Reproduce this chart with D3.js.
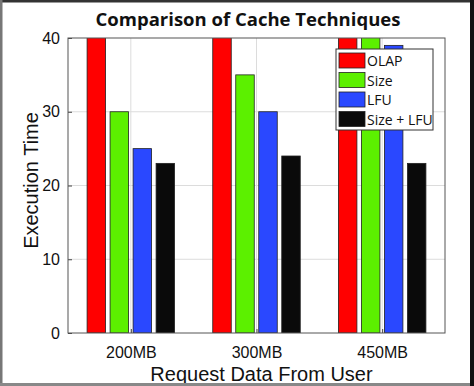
<!DOCTYPE html>
<html>
<head>
<meta charset="utf-8">
<script src="https://cdn.jsdelivr.net/npm/d3@7"></script>
<style>
  body { margin: 0; background: #fff; }
  svg { display: block; }
</style>
</head>
<body>
<div id="chart"></div>
<script>
// chart data
const categories = ['200MB', '300MB', '450MB'];
const seriesNames = ['OLAP', 'Size', 'LFU', 'Size + LFU'];
const olap = [45, 45, 45];
const size = [30, 35, 42];
const lfu = [25, 30, 39];
const sizeLfu = [23, 24, 23];
const yTicks = [0, 10, 20, 30, 40];

const seriesValues = [olap, size, lfu, sizeLfu];
const colors = ['#ff0000', '#5cf000', '#2a48ff', '#0a0a0a'];

const W = 474, H = 386;
const plot = { left: 68, right: 445, top: 38, bottom: 333 };

const svg = d3.select('#chart')
  .append('svg')
  .attr('width', W)
  .attr('height', H);

svg.append('rect')
  .attr('width', W).attr('height', H)
  .attr('fill', '#fff');

const x = d3.scaleLinear()
  .domain([0.5, categories.length + 0.5])
  .range([plot.left, plot.right]);

const y = d3.scaleLinear()
  .domain([0, 40])
  .range([plot.bottom, plot.top]);

svg.append('defs').append('clipPath')
  .attr('id', 'plotClip')
  .append('rect')
  .attr('x', plot.left).attr('y', plot.top)
  .attr('width', plot.right - plot.left).attr('height', plot.bottom - plot.top);

// grid
const grid = svg.append('g');
yTicks.slice(1, -1).forEach(t => {
  grid.append('line')
    .attr('x1', plot.left).attr('x2', plot.right)
    .attr('y1', y(t)).attr('y2', y(t))
    .attr('stroke', '#dcdcdc').attr('stroke-width', 1);
});
categories.forEach((c, i) => {
  grid.append('line')
    .attr('x1', x(i + 1)).attr('x2', x(i + 1))
    .attr('y1', plot.top).attr('y2', plot.bottom)
    .attr('stroke', '#dcdcdc').attr('stroke-width', 1);
});

// bars
const barW = 18.5, step = 23;
const bars = svg.append('g').attr('clip-path', 'url(#plotClip)');
categories.forEach((c, i) => {
  seriesValues.forEach((vals, s) => {
    const cx = x(i + 1) + (s - 1.5) * step;
    bars.append('rect')
      .attr('x', cx - barW / 2)
      .attr('y', y(vals[i]))
      .attr('width', barW)
      .attr('height', y(0) - y(vals[i]))
      .attr('fill', colors[s])
      .attr('stroke', '#222')
      .attr('stroke-width', 0.8);
  });
});

// axes
const yAxis = svg.append('g')
  .attr('transform', `translate(${plot.left},0)`)
  .call(d3.axisLeft(y).tickValues(yTicks).tickSize(-4).tickPadding(8));
const xAxis = svg.append('g')
  .attr('transform', `translate(0,${plot.bottom})`)
  .call(d3.axisBottom(x).tickValues(categories.map((c, i) => i + 1))
    .tickFormat((d, i) => categories[i]).tickSize(-4).tickPadding(14));

[yAxis, xAxis].forEach(a => {
  a.select('.domain').remove();
  a.selectAll('line').attr('stroke', '#444');
  a.selectAll('text')
    .attr('fill', '#111')
    .style('font-family', '"Liberation Sans", Arial, sans-serif')
    .style('font-size', '16px');
});

svg.append('rect')
  .attr('x', plot.left).attr('y', plot.top)
  .attr('width', plot.right - plot.left).attr('height', plot.bottom - plot.top)
  .attr('fill', 'none')
  .attr('stroke', '#555').attr('stroke-width', 1);

// title + labels
svg.append('text')
  .attr('x', 248).attr('y', 26)
  .attr('text-anchor', 'middle')
  .style('font-family', '"Open Sans", sans-serif')
  .style('font-weight', 'bold')
  .style('font-size', '18.5px')
  .attr('fill', '#111')
  .text('Comparison of Cache Techniques');

svg.append('text')
  .attr('transform', 'rotate(-90)')
  .attr('x', -(plot.top + plot.bottom) / 2 + 5)
  .attr('y', 38)
  .attr('text-anchor', 'middle')
  .style('font-family', '"Liberation Sans", Arial, sans-serif')
  .style('font-size', '20px')
  .attr('fill', '#111')
  .text('Execution Time');

svg.append('text')
  .attr('x', (plot.left + plot.right) / 2 + 5)
  .attr('y', 381)
  .attr('text-anchor', 'middle')
  .style('font-family', '"Liberation Sans", Arial, sans-serif')
  .style('font-size', '20px')
  .attr('fill', '#111')
  .text('Request Data From User');

// legend
const lg = svg.append('g').attr('transform', 'translate(336,49)');
lg.append('rect')
  .attr('width', 97).attr('height', 81)
  .attr('fill', '#fff')
  .attr('stroke', '#333').attr('stroke-width', 1);
seriesNames.forEach((n, i) => {
  const row = lg.append('g').attr('transform', `translate(3,${4 + i * 19.5})`);
  row.append('rect')
    .attr('width', 26).attr('height', 15)
    .attr('fill', colors[i])
    .attr('stroke', '#222').attr('stroke-width', 0.8);
  row.append('text')
    .attr('x', 28).attr('y', 13)
    .style('font-family', '"Open Sans", sans-serif')
    .style('font-size', '14px')
    .attr('fill', '#111')
    .text(n);
});

// outer frame
svg.append('line').attr('x1', 0).attr('x2', W).attr('y1', 1).attr('y2', 1)
  .attr('stroke', '#333').attr('stroke-width', 3);
svg.append('line').attr('x1', 1).attr('x2', 1).attr('y1', 0).attr('y2', H)
  .attr('stroke', '#777').attr('stroke-width', 3);
svg.append('line').attr('x1', 0).attr('x2', W).attr('y1', H - 1.5).attr('y2', H - 1.5)
  .attr('stroke', '#888').attr('stroke-width', 3);
svg.append('line').attr('x1', W - 2).attr('x2', W - 2).attr('y1', 0).attr('y2', H)
  .attr('stroke', '#111').attr('stroke-width', 4);
</script>
</body>
</html>
